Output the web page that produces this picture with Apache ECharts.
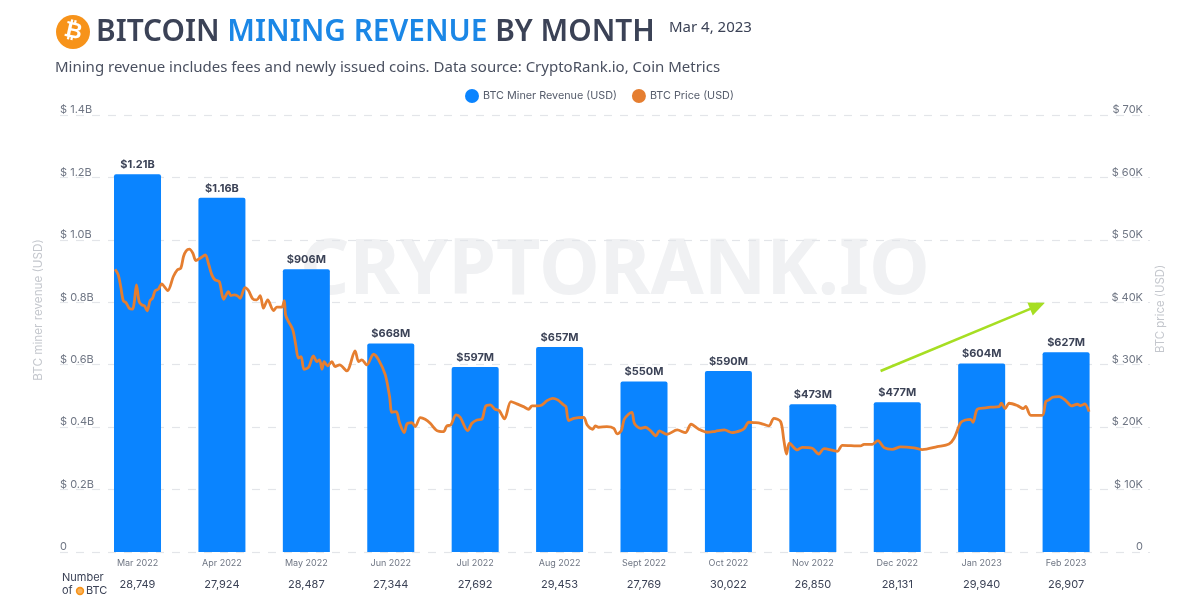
<!DOCTYPE html>
<html>
<head>
<meta charset="utf-8">
<style>
  html, body { margin: 0; padding: 0; background: #fff; }
  #main { width: 1200px; height: 600px; }
</style>
<script src="https://cdn.jsdelivr.net/npm/echarts@6/dist/echarts.min.js"></script>
</head>
<body>
<div id="main"></div>
<script>
// months and bars
const months = ['Mar 2022', 'Apr 2022', 'May 2022', 'Jun 2022', 'Jul 2022', 'Aug 2022', 'Sept 2022', 'Oct 2022', 'Nov 2022', 'Dec 2022', 'Jan 2023', 'Feb 2023'];
// bar heights as drawn in the picture, the printed labels are kept apart below
const revenue = [1210e6, 1135e6, 906e6, 668e6, 593e6, 657e6, 546e6, 580e6, 473e6, 480e6, 604e6, 640e6];
const revenueLabels = ['$1.21B', '$1.16B', '$906M', '$668M', '$597M', '$657M', '$550M', '$590M', '$473M', '$477M', '$604M', '$627M'];
const btcMined = ['28,749', '27,924', '28,487', '27,344', '27,692', '29,453', '27,769', '30,022', '26,850', '28,131', '29,940', '26,907'];

// price line, days since 1 Mar 2022 and price in USD
const priceDays = [
  0.4, 1.6, 2.5, 3.5, 4.5, 5.7, 6.9, 7.6, 8.4, 9.4, 10.4, 11.4, 12.4, 13.5, 14.4, 15.4, 16.6, 17.8, 20.1, 22.2,
  23.7, 25, 26, 27, 28.2, 29.5, 30.6, 32.2, 34.2, 35.3, 36.6, 37.8, 39.4, 41, 42.8, 43.7, 45, 46.2, 47.2, 49,
  50.3, 51.9, 53.4, 54.7, 55.9, 57.5, 59.7, 60.9, 62.8, 63.7, 64.2, 65.3, 66.9, 68, 69, 70, 71.1, 72.8, 74.6, 75.9,
  76.9, 77.8, 78.6, 79.9, 81.5, 82.7, 84.4, 87.1, 90.2, 91.5, 92.7, 94.6, 97.1, 99, 101.5, 103.1, 104, 105.6, 106.8, 108.6,
  109.6, 111.4, 112.7, 114.6, 116.4, 118.3, 120.8, 123.3, 124.5, 126, 128, 129.5, 132.3, 133.9, 135.8, 137.6, 139.1, 140.8, 142.6, 144.1,
  146.1, 148.5, 150.7, 153.2, 155.1, 156.4, 158.2, 160.1, 162, 164.1, 166, 168.2, 169.1, 170.1, 172, 175.7, 177, 179.1, 180.1, 181.3,
  184.4, 187, 188.2, 189.8, 190.9, 192.6, 193.8, 194.7, 196.9, 198.8, 200.7, 202.8, 204, 206.9, 210.7, 213.8, 215.9, 218.8, 221.9, 225,
  228.4, 231.2, 234.4, 235.9, 237.5, 239.4, 241.9, 245, 246.9, 249.4, 250.6, 251.6, 252.7, 255.6, 257.5, 261.2, 263.7, 265.6, 270.6, 272.5,
  279.3, 280.6, 283.7, 285.8, 288.1, 291.2, 294.3, 299.3, 302.4, 308, 312.4, 314.3, 316.8, 318.6, 320.5, 321.4, 323, 326.1, 328, 331.1,
  332, 333.4, 334.9, 338, 340.2, 341.1, 343, 347.3, 348.6, 349.8, 351.1, 353.6, 356.1, 358.2, 360.4, 361.7, 363.2, 364.8
];
const priceValues = [
  45300, 44400, 42520, 40225, 39960, 39050, 38890, 40120, 42790, 40120, 39590, 39420, 38620, 40280, 40650, 41830, 42100, 42950, 41880, 44130,
  45200, 45460, 47330, 48240, 48500, 47860, 46690, 47060, 47600, 46260, 44390, 43590, 43320, 40490, 41720, 41080, 41190, 41030, 40650, 42360,
  41880, 40550, 40380, 41080, 39050, 40380, 38680, 39210, 39210, 40280, 37980, 36910, 35580, 33170, 31040, 31300, 29270, 29590, 31410, 30500,
  30770, 29270, 30500, 29810, 30500, 29700, 29970, 29010, 32210, 30500, 30770, 29970, 31680, 30770, 28370, 24900, 22380, 22490, 20730, 19130,
  20510, 20730, 20090, 21530, 21260, 20620, 19440, 19280, 20190, 20350, 21960, 21580, 19440, 20620, 21150, 21260, 23400, 23560, 22860, 22650,
  21320, 24090, 23720, 23290, 22860, 23400, 23400, 23560, 24250, 24620, 24360, 23560, 23290, 21050, 21420, 21580, 20350, 19660, 20190, 19980,
  20090, 19820, 18910, 19440, 21260, 22110, 22380, 20620, 19820, 19980, 19440, 18590, 19390, 18860, 19550, 19120, 20460, 19660, 19180, 19340,
  19550, 19120, 19440, 19820, 20780, 20730, 20620, 20190, 21420, 20890, 17950, 15700, 17420, 16350, 16770, 16610, 15700, 16560, 16130, 17090,
  16990, 17250, 17250, 17840, 16720, 16450, 16830, 16670, 16400, 16880, 17310, 18220, 20730, 21150, 21260, 20780, 22860, 23080, 23190, 23290,
  23830, 22970, 23830, 23450, 22970, 23340, 21900, 21900, 24090, 24360, 24790, 24890, 24250, 23400, 23670, 23450, 23720, 22490
];

// green trend arrow, same units as the price line
const arrowStart = [286.8, 29000];
const arrowEnd = [345.5, 39420];

const BLUE = '#0a84ff';
const ORANGE = '#e57e30';
const DARK = '#3b4256';
const GREY = '#6f7684';
const TITLE_FONT = '"Noto Sans", sans-serif';
const CHART_FONT = 'Inter, sans-serif';

const chart = echarts.init(document.getElementById('main'));

const gridLine = {
  show: true,
  lineStyle: { color: '#e3e5e9', width: 1.2, type: [8, 8] }
};

chart.setOption({
  backgroundColor: '#fff',
  animation: false,
  textStyle: { fontFamily: CHART_FONT },
  title: [
    {
      text: '{a|BITCOIN} {b|MINING REVENUE} {a|BY MONTH}',
      left: 91,
      top: 13,
      textStyle: {
        fontFamily: TITLE_FONT,
        fontSize: 30,
        fontWeight: 600,
        rich: {
          a: { fontFamily: TITLE_FONT, fontSize: 29.8, fontWeight: 600, color: DARK },
          b: { fontFamily: TITLE_FONT, fontSize: 29.8, fontWeight: 600, color: '#1b87e6' }
        }
      }
    },
    {
      text: 'Mar 4, 2023',
      left: 664,
      top: 15,
      textStyle: { fontFamily: TITLE_FONT, fontSize: 15, fontWeight: 400, color: DARK }
    },
    {
      text: 'Mining revenue includes fees and newly issued coins. Data source: CryptoRank.io, Coin Metrics',
      left: 50,
      top: 55,
      textStyle: { fontFamily: TITLE_FONT, fontSize: 15, fontWeight: 400, color: '#4a5060' }
    }
  ],
  legend: {
    top: 84,
    left: 460,
    itemWidth: 14,
    itemHeight: 14,
    itemGap: 15,
    icon: 'circle',
    textStyle: { fontSize: 10.8, color: '#555c6b', padding: [0, 0, 0, -1] },
    data: ['BTC Miner Revenue (USD)', 'BTC Price (USD)']
  },
  // wide grid only for the dashed lines and the y labels, narrow one for the marks
  grid: [
    { left: 60, right: 50, top: 115, height: 437 },
    { left: 95.3, width: 1013, top: 115, height: 437 }
  ],
  xAxis: [
    { gridIndex: 0, type: 'value', min: 0, max: 1, show: false },
    {
      gridIndex: 1,
      type: 'category',
      data: months,
      axisLine: { show: false },
      axisTick: { show: false },
      axisLabel: {
        interval: 0,
        margin: 2,
        formatter: (value, index) => '{m|' + value + '}\n{n|' + btcMined[index] + '}',
        rich: {
          m: { fontSize: 9, color: GREY, height: 18, align: 'center' },
          n: { fontSize: 11, color: DARK, height: 26, align: 'center' }
        }
      }
    },
    { gridIndex: 1, type: 'value', min: -7, max: 372, show: false }
  ],
  yAxis: [
    {
      gridIndex: 0,
      type: 'value',
      position: 'left',
      min: 0,
      max: 1.4e9,
      interval: 2e8,
      axisLine: { show: false },
      axisTick: { show: false },
      splitLine: gridLine,
      axisLabel: {
        inside: true,
        margin: 0,
        fontSize: 11,
        color: GREY,
        verticalAlign: 'bottom',
        lineHeight: 10,
        formatter: v => (v === 0 ? '0' : '$ ' + (v / 1e9).toFixed(1) + 'B')
      }
    },
    {
      gridIndex: 0,
      type: 'value',
      position: 'right',
      min: 0,
      max: 70000,
      interval: 10000,
      axisLine: { show: false },
      axisTick: { show: false },
      splitLine: { show: false },
      axisLabel: {
        inside: true,
        margin: 7,
        fontSize: 11,
        color: GREY,
        verticalAlign: 'bottom',
        lineHeight: 10,
        formatter: v => (v === 0 ? '0' : '$ ' + v / 1000 + 'K')
      }
    },
    { gridIndex: 1, type: 'value', min: 0, max: 1.4e9, show: false },
    { gridIndex: 1, type: 'value', min: 0, max: 70000, show: false }
  ],
  graphic: [
    // watermark sits behind the bars
    {
      type: 'text',
      z: 0,
      silent: true,
      x: 615,
      y: 272,
      style: {
        text: 'CRYPTORANK.IO',
        font: 'bold 77px ' + TITLE_FONT,
        fill: '#f0f1f3',
        textAlign: 'center',
        textVerticalAlign: 'middle'
      }
    },
    { type: 'circle', z: 5, shape: { cx: 73, cy: 32, r: 17 }, style: { fill: '#f7931a' } },
    {
      type: 'text',
      z: 6,
      x: 73,
      y: 32,
      rotation: -0.22,
      style: {
        text: '₿',
        font: 'bold 22px "DejaVu Sans", sans-serif',
        fill: '#fff',
        textAlign: 'center',
        textVerticalAlign: 'middle'
      }
    },
    {
      type: 'text',
      x: 38,
      y: 310,
      rotation: Math.PI / 2,
      style: {
        text: 'BTC miner revenue (USD)',
        font: '11.7px ' + CHART_FONT,
        fill: '#c4c7cd',
        textAlign: 'center',
        textVerticalAlign: 'middle'
      }
    },
    {
      type: 'text',
      x: 1161,
      y: 309,
      rotation: Math.PI / 2,
      style: {
        text: 'BTC price (USD)',
        font: '11.4px ' + CHART_FONT,
        fill: '#c4c7cd',
        textAlign: 'center',
        textVerticalAlign: 'middle'
      }
    },
    {
      type: 'text',
      x: 62,
      y: 578,
      style: { text: 'Number', font: '11px ' + CHART_FONT, fill: DARK, textVerticalAlign: 'middle' }
    },
    {
      type: 'text',
      x: 62,
      y: 591,
      style: { text: 'of', font: '11px ' + CHART_FONT, fill: DARK, textVerticalAlign: 'middle' }
    },
    {
      type: 'circle',
      shape: { cx: 80, cy: 591, r: 3.4 },
      style: { fill: '#f9b25a', stroke: '#f7931a', lineWidth: 1.6 }
    },
    {
      type: 'text',
      x: 86,
      y: 591,
      style: { text: 'BTC', font: '11px ' + CHART_FONT, fill: DARK, textVerticalAlign: 'middle' }
    }
  ],
  series: [
    {
      name: 'BTC Miner Revenue (USD)',
      type: 'bar',
      xAxisIndex: 1,
      yAxisIndex: 2,
      data: revenue,
      barWidth: 47,
      itemStyle: { color: BLUE, borderRadius: [2, 2, 0, 0] },
      label: {
        show: true,
        position: 'top',
        distance: 4,
        fontSize: 11,
        fontWeight: 700,
        color: DARK,
        formatter: p => revenueLabels[p.dataIndex]
      }
    },
    {
      name: 'BTC Price (USD)',
      type: 'line',
      xAxisIndex: 2,
      yAxisIndex: 3,
      z: 4,
      showSymbol: false,
      smooth: 0.3,
      data: priceDays.map((d, i) => [d, priceValues[i]]),
      itemStyle: { color: ORANGE },
      lineStyle: { color: ORANGE, width: 2.8 },
      markLine: {
        silent: true,
        symbol: ['none', 'triangle'],
        symbolSize: [14, 16],
        label: { show: false },
        lineStyle: { color: '#a6de22', width: 2.6, type: 'solid' },
        data: [[
          { coord: arrowStart },
          { coord: arrowEnd }
        ]]
      }
    }
  ]
});
</script>
</body>
</html>
